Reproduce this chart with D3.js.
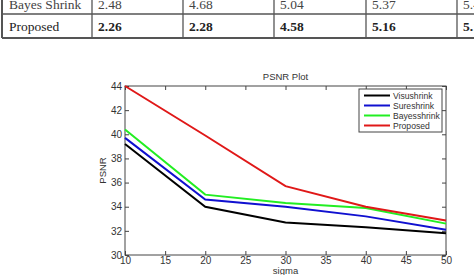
<!DOCTYPE html>
<html>
<head>
<meta charset="utf-8">
<script src="https://cdn.jsdelivr.net/npm/d3@7"></script>
<style>
  body { margin: 0; background: #fff; }
</style>
</head>
<body>
<div id="chart"></div>
<script>
// table rows (cropped from the page above the plot)
var tableRows = [
  ["Bayes Shrink", "2.48", "4.68", "5.04", "5.37", "5.4"],
  ["Proposed", "2.26", "2.28", "4.58", "5.16", "5.1"]
];

// plot data
var sigma = [10, 20, 30, 40, 50];
var visushrink = [39.2, 34.0, 32.7, 32.3, 31.8];
var sureshrink = [39.7, 34.6, 34.0, 33.2, 32.1];
var bayesshrink = [40.4, 35.0, 34.3, 33.9, 32.6];
var proposed = [44.0, 39.9, 35.7, 34.0, 32.85];
var seriesNames = ["Visushrink", "Sureshrink", "Bayesshrink", "Proposed"];
var seriesColors = ["#000000", "#1010d0", "#22ee22", "#e01818"];
var xTicks = [10, 15, 20, 25, 30, 35, 40, 45, 50];
var yTicks = [30, 32, 34, 36, 38, 40, 42, 44];

var W = 474, H = 275;
var svg = d3.select("#chart").append("svg")
  .attr("width", W).attr("height", H);

// ---- table ----
var colX = [2, 92, 183, 274, 366, 457];
var rowLines = [14, 38];
var tbl = svg.append("g");
rowLines.forEach(function(yy, i) {
  tbl.append("line")
    .attr("x1", 2).attr("x2", W).attr("y1", yy).attr("y2", yy)
    .attr("stroke", "#555").attr("stroke-width", i == 1 ? 2 : 1.3);
});
colX.forEach(function(xx) {
  tbl.append("line")
    .attr("x1", xx).attr("x2", xx).attr("y1", 0).attr("y2", 38)
    .attr("stroke", "#555").attr("stroke-width", xx == 2 ? 2 : 1.3);
});
tableRows.forEach(function(row, r) {
  row.forEach(function(cell, c) {
    tbl.append("text")
      .attr("x", colX[c] + (c == 0 ? 7 : 6))
      .attr("y", r == 0 ? 9 : 31)
      .attr("font-family", "Liberation Serif, serif")
      .attr("font-size", 13.5)
      .attr("font-weight", r == 1 && c > 0 ? "bold" : "normal")
      .attr("fill", r == 0 ? "#444" : "#222")
      .text(cell);
  });
});

// ---- plot ----
var pLeft = 125, pRight = 446, pTop = 86, pBottom = 255;
var x = d3.scaleLinear().domain([10, 50]).range([pLeft, pRight]);
var y = d3.scaleLinear().domain([30, 44]).range([pBottom, pTop]);

var plot = svg.append("g");

// frame
plot.append("rect")
  .attr("x", pLeft).attr("y", pTop)
  .attr("width", pRight - pLeft).attr("height", pBottom - pTop)
  .attr("fill", "#fff").attr("stroke", "#444").attr("stroke-width", 1);

// axes with inward ticks
plot.append("g")
  .attr("transform", "translate(0," + pBottom + ")")
  .call(d3.axisBottom(x).tickValues(xTicks).tickSizeInner(-4).tickSizeOuter(0).tickPadding(2))
  .call(function(g) { g.select(".domain").remove(); });
plot.append("g")
  .attr("transform", "translate(0," + pTop + ")")
  .call(d3.axisTop(x).tickValues(xTicks).tickSizeInner(-4).tickSizeOuter(0).tickFormat(""))
  .call(function(g) { g.select(".domain").remove(); });
plot.append("g")
  .attr("transform", "translate(" + pLeft + ",0)")
  .call(d3.axisLeft(y).tickValues(yTicks).tickSizeInner(-4).tickSizeOuter(0).tickPadding(3))
  .call(function(g) { g.select(".domain").remove(); });
plot.append("g")
  .attr("transform", "translate(" + pRight + ",0)")
  .call(d3.axisRight(y).tickValues(yTicks).tickSizeInner(-4).tickSizeOuter(0).tickFormat(""))
  .call(function(g) { g.select(".domain").remove(); });

plot.selectAll(".tick line").attr("stroke", "#444");
plot.selectAll(".tick text")
  .attr("font-family", "Liberation Sans, Arial, sans-serif")
  .attr("font-size", 10)
  .attr("fill", "#333");

// lines
var allSeries = [visushrink, sureshrink, bayesshrink, proposed];
var line = d3.line()
  .x(function(d, i) { return x(sigma[i]); })
  .y(function(d) { return y(d); });
allSeries.forEach(function(s, i) {
  plot.append("path")
    .datum(s)
    .attr("fill", "none")
    .attr("stroke", seriesColors[i])
    .attr("stroke-width", 2)
    .attr("d", line);
});

// title and labels
svg.append("text")
  .attr("x", (pLeft + pRight) / 2).attr("y", 80)
  .attr("text-anchor", "middle")
  .attr("font-family", "Liberation Sans, Arial, sans-serif")
  .attr("font-size", 9.5).attr("fill", "#333")
  .text("PSNR Plot");
svg.append("text")
  .attr("x", (pLeft + pRight) / 2).attr("y", 274)
  .attr("text-anchor", "middle")
  .attr("font-family", "Liberation Sans, Arial, sans-serif")
  .attr("font-size", 9.5).attr("fill", "#333")
  .text("sigma");
svg.append("text")
  .attr("transform", "translate(" + 106 + "," + ((pTop + pBottom) / 2) + ") rotate(-90)")
  .attr("text-anchor", "middle")
  .attr("font-family", "Liberation Sans, Arial, sans-serif")
  .attr("font-size", 9.5).attr("fill", "#333")
  .text("PSNR");

// legend
var lg = svg.append("g").attr("transform", "translate(359,89)");
lg.append("rect")
  .attr("width", 83).attr("height", 43)
  .attr("fill", "#fff").attr("stroke", "#444").attr("stroke-width", 1);
seriesNames.forEach(function(name, i) {
  var ly = 6.5 + i * 10;
  lg.append("line")
    .attr("x1", 5).attr("x2", 31).attr("y1", ly).attr("y2", ly)
    .attr("stroke", seriesColors[i]).attr("stroke-width", 2);
  lg.append("text")
    .attr("x", 34).attr("y", ly + 3.2)
    .attr("font-family", "Liberation Sans, Arial, sans-serif")
    .attr("font-size", 8.6).attr("fill", "#333")
    .text(name);
});
</script>
</body>
</html>
